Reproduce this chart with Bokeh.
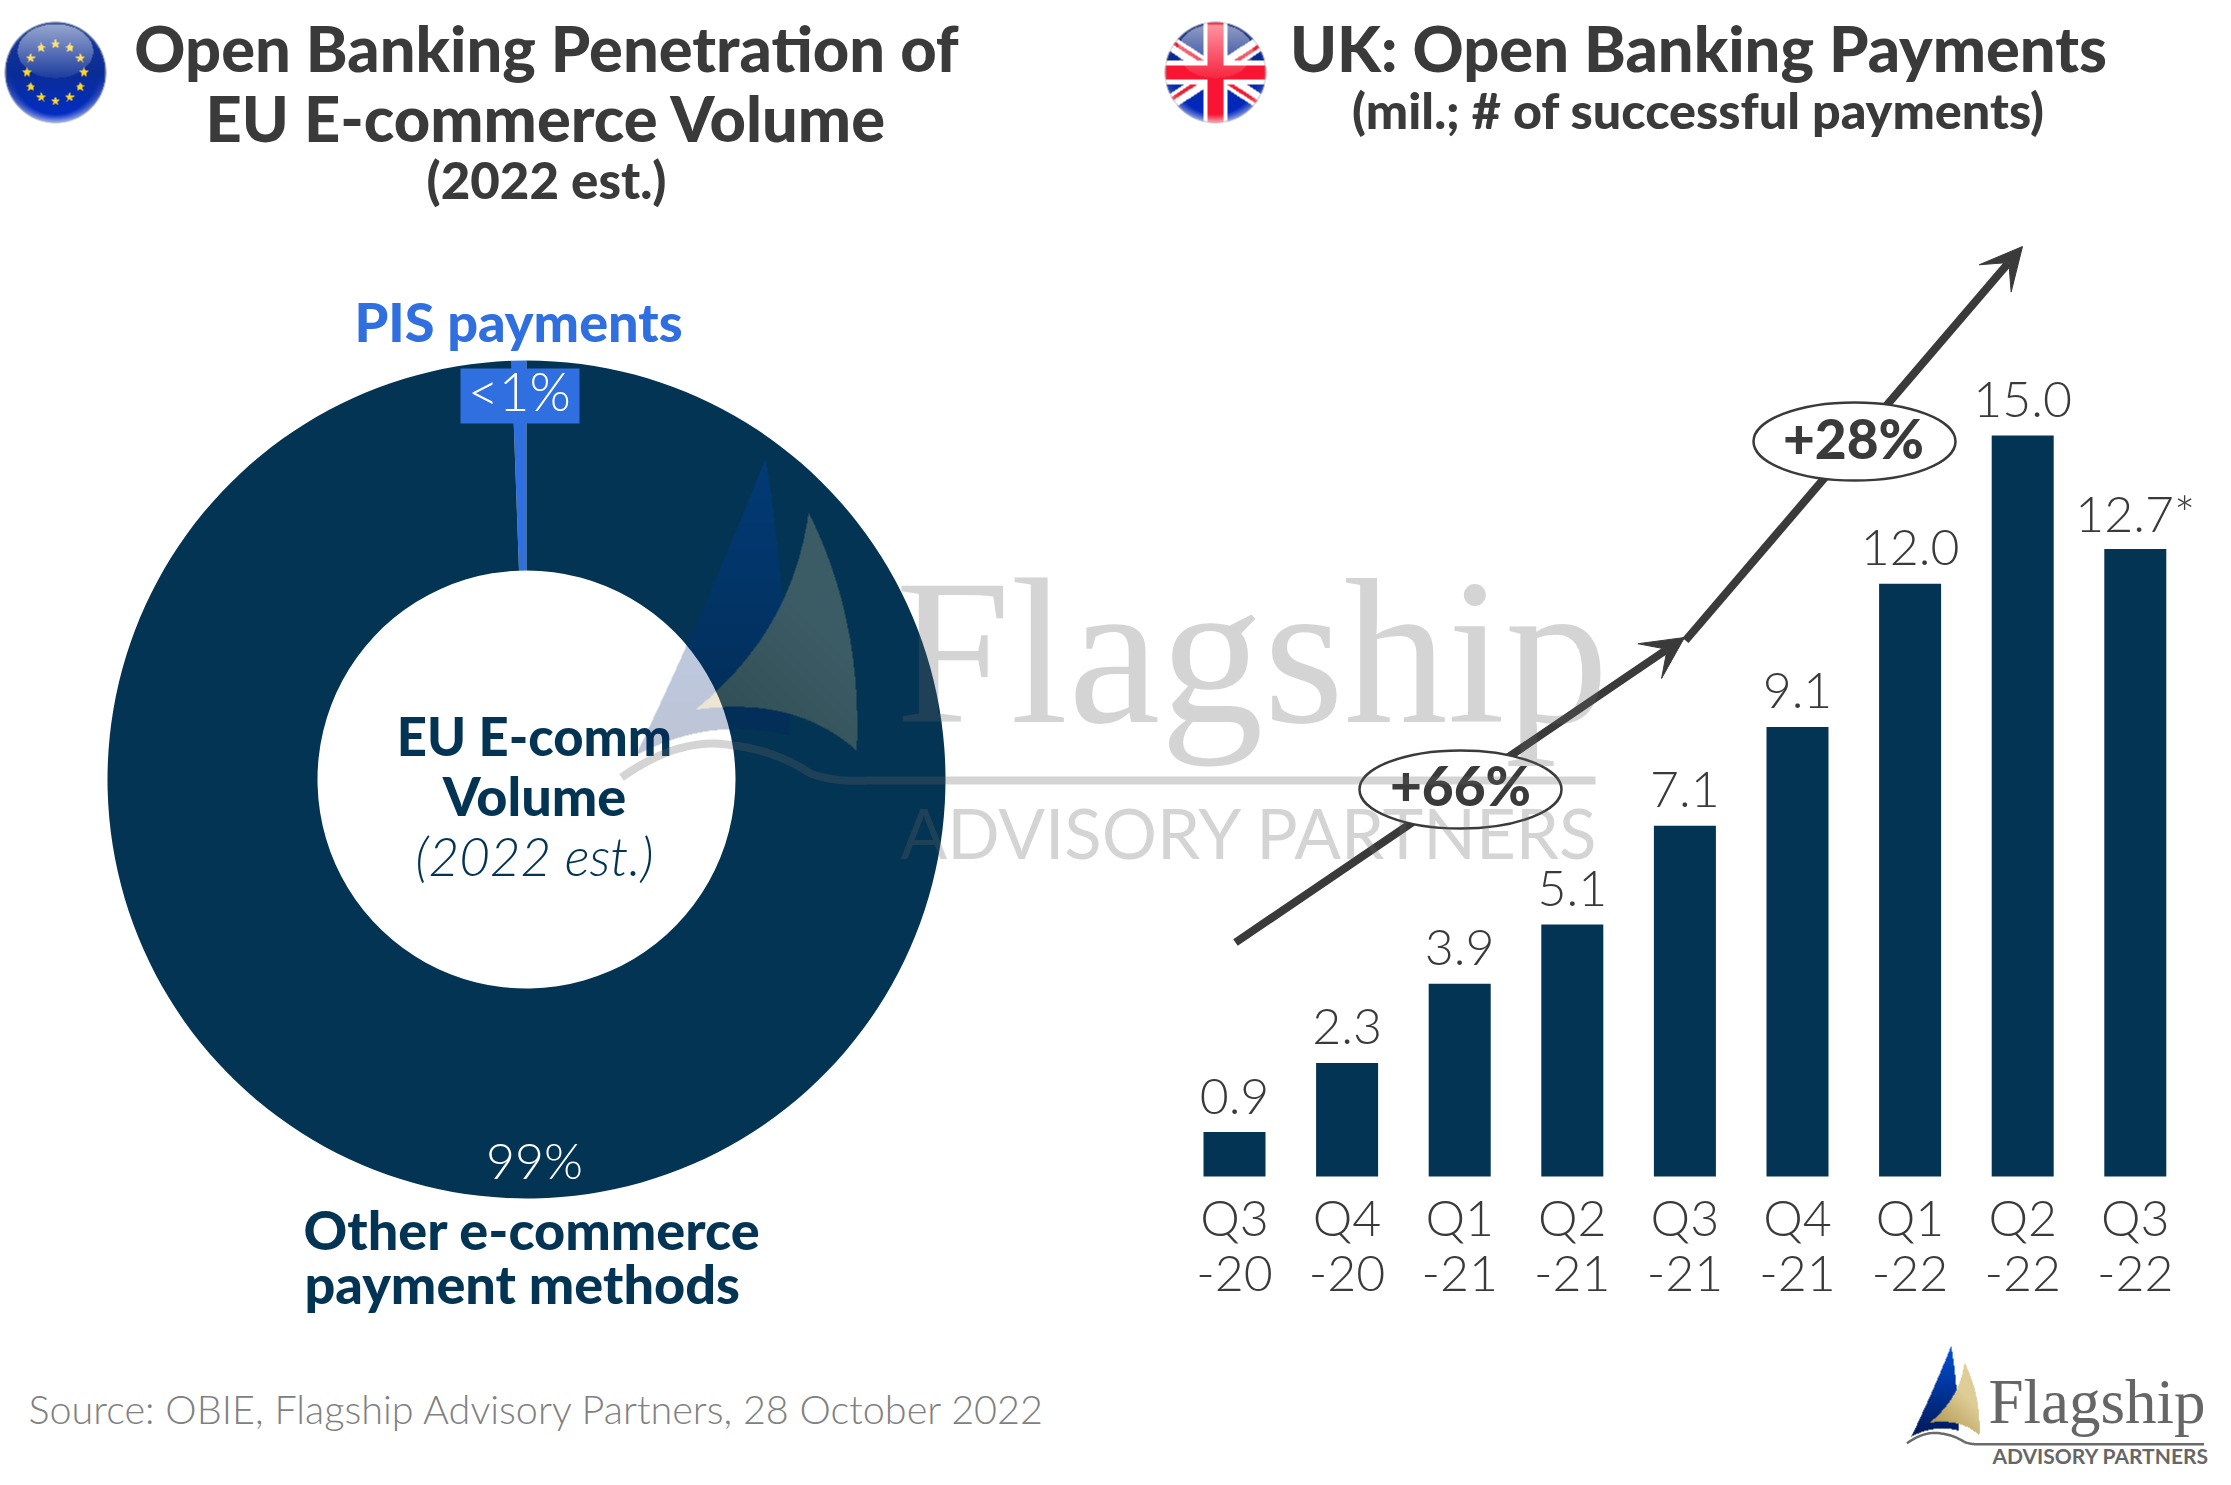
import numpy as np
from bokeh.plotting import figure
from bokeh.embed import file_html
from bokeh.resources import INLINE
from bokeh.core.properties import value
from bokeh.models import Range1d, LinearAxis, FixedTicker, Arrow, VeeHead, ColumnDataSource

# ---------- data ----------
quarters = ["Q3\n-20", "Q4\n-20", "Q1\n-21", "Q2\n-21", "Q3\n-21", "Q4\n-21", "Q1\n-22", "Q2\n-22", "Q3\n-22"]
payments = [0.9, 2.3, 3.9, 5.1, 7.1, 9.1, 12.0, 15.0, 12.7]
payment_labels = ["0.9", "2.3", "3.9", "5.1", "7.1", "9.1", "12.0", "15.0", "12.7*"]
donut_names = ["PIS payments", "Other e-commerce payment methods"]
donut_shares = [0.57, 99.43]

NAVY = "#043454"; BLUE = "#2f6fe0"; DARK = "#3a3a3a"
LIGHT = "Lato Light"; BOLD = "Lato Heavy"; BLACK = "Lato Black"
BASE_K = 0.34    # alphabetic-baseline correction, in em

W, H = 2215, 1469
L, T = 0, 0      # main data coordinates equal screenshot pixels
p = figure(width=W, height=H, output_backend="svg", toolbar_location=None,
           x_axis_type=None, y_axis_type=None, min_border=0, outline_line_color=None,
           x_range=Range1d(L, L + W), y_range=Range1d(T + H, T), background_fill_color="white")
p.grid.visible = False

# scales of the two charts
bar_x0, bar_step, base_y, unit = 1234.0, 112.6, 1176.0, 49.4
p.extra_x_ranges["bars"] = Range1d((L - bar_x0) / bar_step, (L + W - bar_x0) / bar_step)
p.extra_y_ranges["bars"] = Range1d((base_y - T - H) / unit, (base_y - T) / unit)
cx, cy, r_out, r_in = 526.0, 779.0, 419.0, 209.0
p.extra_x_ranges["donut"] = Range1d(L - cx, L + W - cx)
p.extra_y_ranges["donut"] = Range1d(cy - T - H, cy - T)

def txt(x, y, s, size, color=DARK, font=BOLD, style="normal", align="center", alpha=1.0):
    p.text(x=[x], y=[y], text=[s], text_font=value(font), text_font_style=style,
           text_font_size=f"{size}px", text_color=color, text_align=align, y_offset=-BASE_K * size,
           text_baseline="alphabetic", text_alpha=alpha)

# ---------- donut ----------
turn = np.cumsum([0] + donut_shares) / 100 * 2 * np.pi + np.pi / 2
p.annular_wedge(x=0, y=0, inner_radius=r_in, outer_radius=r_out,
                start_angle=turn[:-1], end_angle=turn[1:], fill_color=[BLUE, NAVY], line_color=None,
                x_range_name="donut", y_range_name="donut")
p.quad(left=[460], right=[579], top=[368], bottom=[423], fill_color=BLUE, line_color=None)
txt(519, 408, "<1%", 53, "white", LIGHT)
txt(534, 1176, "99%", 50, "white", LIGHT)
txt(518, 339, "PIS payments", 54, BLUE)
txt(303, 1247, "Other e-commerce", 54, NAVY, BLACK, align="left")
txt(304, 1301, "payment methods", 54, NAVY, BLACK, align="left")
txt(534, 753, "EU E-comm", 52.5, NAVY, BLACK)
txt(534, 813, "Volume", 54, NAVY, BLACK)
txt(534, 873, "(2022 est.)", 53, NAVY, LIGHT, "italic")

# ---------- titles ----------
txt(546, 68, "Open Banking Penetration of", 63.2)
txt(546, 138, "EU E-commerce Volume", 63.2)
txt(546, 196, "(2022 est.)", 51)
txt(1698, 68, "UK: Open Banking Payments", 63.2)
txt(1698, 126, "(mil.; # of successful payments)", 50.3)
txt(28, 1421, "Source: OBIE, Flagship Advisory Partners, 28 October 2022", 39.6, "#808080", LIGHT, "normal", "left")

# ---------- arrows (under the bars) ----------
for (x0, y0, x1, y1) in [(1235, 942, 1684, 637), (1685, 640, 2022, 246)]:
    p.add_layout(Arrow(end=VeeHead(size=42, fill_color=DARK, line_color=DARK), line_color=DARK, line_width=8,
                       x_start=x0, y_start=y0, x_end=x1, y_end=y1, level="underlay"))

# ---------- bars ----------
idx = list(range(len(payments)))
src = ColumnDataSource(dict(x=idx, top=payments, label=payment_labels))
p.vbar(x="x", top="top", bottom=0, width=62 / bar_step, source=src, fill_color=NAVY, line_color=None,
       x_range_name="bars", y_range_name="bars")
p.text(x="x", y="top", text="label", source=src, x_range_name="bars", y_range_name="bars",
       y_offset=-19 - BASE_K * 50,
       text_font=value(LIGHT), text_font_size="50px", text_color=DARK, text_align="center", text_baseline="alphabetic")

# ---------- axis of quarters ----------
standoff = -120
label_top = base_y + 10
axis = LinearAxis(x_range_name="bars", y_range_name="bars", fixed_location=(base_y - (label_top - standoff)) / unit,
                  ticker=FixedTicker(ticks=idx),
                  major_label_overrides={i: q for i, q in enumerate(quarters)})
axis.axis_line_color = None; axis.major_tick_line_color = None; axis.minor_tick_line_color = None
axis.major_tick_out = 0; axis.major_tick_in = 0
axis.major_label_standoff = standoff
axis.major_label_text_font = LIGHT
axis.major_label_text_font_size = "50px"
axis.major_label_text_color = DARK
axis.major_label_text_line_height = 0.92
p.add_layout(axis, "below")

# ---------- growth ovals ----------
p.ellipse(x=[1460, 1854], y=[789, 441], width=202, height=78, fill_color="white", line_color=DARK, line_width=2.5)
txt(1460, 803, "+66%", 55)
txt(1853, 456, "+28%", 55)

# ---------- raster helpers (flags / sails) ----------
def to_img(rgb, a):
    rgb = np.clip(rgb, 0, 255).astype(np.uint8); a8 = np.clip(a * 255, 0, 255).astype(np.uint8)
    out = np.zeros(a8.shape, dtype=np.uint32)
    v = out.view(np.uint8).reshape(a8.shape + (4,))
    v[..., 0] = rgb[..., 0]; v[..., 1] = rgb[..., 1]; v[..., 2] = rgb[..., 2]; v[..., 3] = a8
    return out

def inside(poly, X, Y):
    px, py = poly[:, 0], poly[:, 1]
    m = np.zeros(X.shape, bool)
    for i in range(len(px)):
        j = (i + 1) % len(px)
        c = (py[i] > Y) != (py[j] > Y)
        with np.errstate(divide="ignore", invalid="ignore"):
            xc = (px[j] - px[i]) * (Y - py[i]) / (py[j] - py[i] + 1e-12) + px[i]
        m ^= c & (X < xc)
    return m

def star_mask(X, Y, sx, sy, R):
    t = np.linspace(0, 2 * np.pi, 11)[:-1] - np.pi / 2
    rad = np.where(np.arange(10) % 2 == 0, R, R * 0.42)
    return inside(np.c_[sx + rad * np.cos(t), sy + rad * np.sin(t)], X, Y)

def gloss(rgb, U, V):
    # shiny dome on the upper half and a bright rim at the bottom
    g = ((U / 0.74) ** 2 + ((V + 0.42) / 0.53) ** 2) <= 1
    k = np.where(g, 0.55 - 0.47 * np.clip((V + 0.95) / 1.05, 0, 1), 0)[..., None]
    rgb = rgb * (1 - k) + 255 * k
    d = np.sqrt(U ** 2 + V ** 2)
    rim = np.clip((d - 0.82) / 0.18, 0, 1) * np.clip(V, 0, 1) ** 1.5
    return rgb * (1 - 0.75 * rim[..., None]) + 255 * 0.75 * rim[..., None]

def flag(kind, fx, fy, R):
    n = int(2 * R * 3)
    g = (np.arange(n) + 0.5) / n * 2 - 1
    U, V = np.meshgrid(g, g)
    d = np.sqrt(U ** 2 + V ** 2)
    shade = np.clip((V + 1) / 2, 0, 1)[..., None]
    if kind == "eu":
        rgb = np.array([26, 60, 150.]) * (1 - shade) + np.array([0, 45, 205.]) * shade
        rgb = rgb * (0.85 + 0.15 * np.abs(V)[..., None])
        for a in np.arange(12) * np.pi / 6:
            m = star_mask(U, V, 0.56 * np.cos(a), 0.56 * np.sin(a) + 0.0, 0.105)
            rgb[m] = [255, 214, 40]
    else:
        rgb = np.array([16, 40, 120.]) * (1 - shade) + np.array([0, 40, 200.]) * shade
        s = 0.66
        au, av = np.abs(U), np.abs(V)
        diag = np.abs(av - s * au)
        rgb[diag < 0.17] = [255, 255, 255]
        same = (U * V) > 0
        off = (av - s * au)
        red = (same & (off > 0) & (off < 0.085)) | (~same & (off < 0) & (off > -0.085))
        rgb[red] = [235, 30, 50]
        rgb[(au < 0.23) | (av < 0.24)] = [255, 255, 255]
        rgb[(au < 0.15) | (av < 0.135)] = [248, 20, 50]
    rgb = gloss(rgb, U, V)
    a = np.clip((1 - d) * R * 1.5, 0, 1)
    edge = (d > 0.97)[..., None]
    rgb = np.where(edge, rgb * 0.45 + 90, rgb)
    p.image_rgba(image=[to_img(rgb, a)], x=fx - R, y=fy - R, dw=2 * R, dh=2 * R)

def bez(a, b, c, n=24):
    t = np.linspace(0, 1, n)[:, None]
    a, b, c = map(np.array, (a, b, c))
    return (1 - t) ** 2 * a + 2 * t * (1 - t) * b + t ** 2 * c

BLUE_SAIL = np.vstack([bez((765, 458), (700, 620), (635, 755)), bez((635, 755), (710, 715), (789, 735)),
                       bez((789, 735), (786, 590), (765, 458))])
GOLD_SAIL = np.vstack([bez((808, 512), (862, 620), (856, 750)), bez((856, 750), (795, 695), (695, 709)),
                       bez((695, 709), (792, 630), (808, 512))])
WAVE = np.vstack([bez((621, 777), (680, 735), (733, 745)), bez((733, 745), (775, 750), (810, 773)),
                  bez((810, 773), (835, 782), (867, 780))])
WAVE = np.vstack([WAVE, [[1595, 780]]])
SAIL_BOX = (625, 450, 870, 765)

def sails(mapx, mapy, scale, alpha):
    x0, y0, x1, y1 = SAIL_BOX
    n = max(4, 2.0 * scale)
    nx, ny = int((x1 - x0) * n), int((y1 - y0) * n)
    X, Y = np.meshgrid(x0 + (np.arange(nx) + .5) / n, y0 + (np.arange(ny) + .5) / n)
    rgb = np.zeros(X.shape + (3,)); a = np.zeros(X.shape)
    tb = np.clip((Y - 458) / 280, 0, 1)[..., None]
    mb = inside(BLUE_SAIL, X, Y)
    rgb[mb] = (np.array([0, 80, 215.]) * (1 - tb) + np.array([0, 28, 95.]) * tb)[mb]
    a[mb] = alpha
    tg = np.clip((X - 700 + 512 - Y + 240) / 240, 0, 1)[..., None]
    mg = inside(GOLD_SAIL, X, Y)
    rgb[mg] = (np.array([222, 205, 150.]) * tg + np.array([170, 142, 70.]) * (1 - tg))[mg]
    a[mg] = alpha
    p.image_rgba(image=[to_img(rgb, a)], x=mapx(x0), y=mapy(y0), dw=mapx(x1) - mapx(x0), dh=mapy(y1) - mapy(y0))

flag("eu", 55, 72, 51)
flag("uk", 1215, 72, 51)

# ---------- small logo ----------
S = 0.305
lx = lambda x: (np.asarray(x) - 895) * S + 1990
ly = lambda y: (np.asarray(y) - 722) * S + 1426
sails(lx, ly, S, 1.0)
p.line(lx(WAVE[:, 0]), ly(WAVE[:, 1]), line_color="#6a6a6a", line_width=2.5)
txt(1988, 1423, "Flagship", 63, "#666666", "Liberation Serif", "normal", "left")
txt(1992, 1462, "ADVISORY PARTNERS", 21, "#666666", "Lato", "bold", "left")

# ---------- watermark on top of everything ----------
sails(lambda x: x, lambda y: y, 1.0, 0.26)
p.line(WAVE[:, 0], WAVE[:, 1], line_color="#666666", line_alpha=0.28, line_width=8)
txt(895, 722, "Flagship", 207, "#666666", "Liberation Serif", "normal", "left", 0.28)
txt(900, 855, "ADVISORY PARTNERS", 69, "#666666", "Lato", "normal", "left", 0.28)

open("out.html", "w").write(file_html(p, INLINE))
